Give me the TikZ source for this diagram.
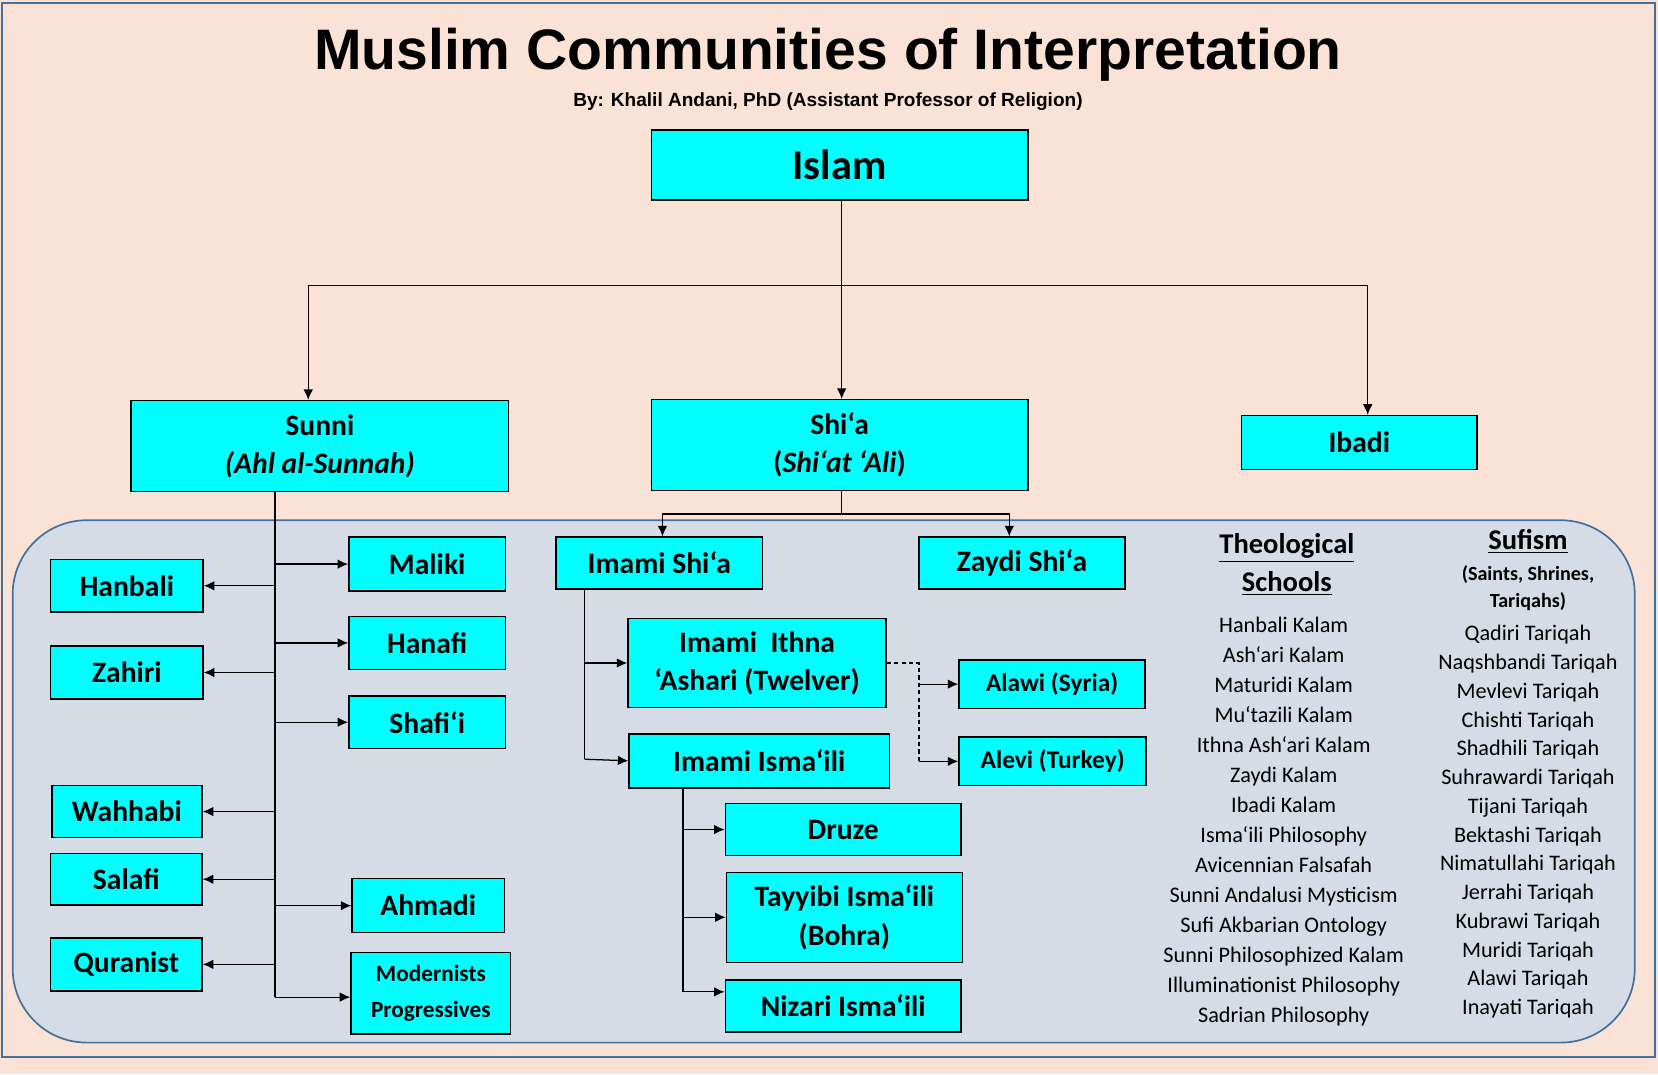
\documentclass[tikz,border=0pt]{standalone}
\usepackage{fontspec}
\setmainfont{Carlito}
\newfontfamily\arialf{Liberation Sans}
\usetikzlibrary{arrows.meta}
\definecolor{peach}{HTML}{FAE3D6}
\definecolor{panel}{HTML}{D6DCE5}
\definecolor{edge}{HTML}{41719C}
\definecolor{cy}{HTML}{00FFFF}
\tikzset{
 box/.style={draw=black,fill=cy,line width=0.7pt,inner sep=0pt,font=\bfseries\fontsize{14}{18}\selectfont,align=center},
 arr/.style={line width=0.6pt,-{Latex[length=5pt,width=4.5pt]}},
 ln/.style={line width=0.6pt},
 lst/.style={font=\fontsize{10.5}{14.2}\selectfont,align=center,inner sep=0pt}
}
\newcommand\bx[6]{\node[box,minimum width={(#3-#2)*0.5pt},minimum height={(#5-#4)*0.5pt}] (#1) at ({(#2+#3)/2},{(#4+#5)/2}) {#6};}
\begin{document}
\begin{tikzpicture}[x=0.5pt,y=-0.5pt]
\useasboundingbox (0,0) rectangle (1568,1016);
\fill[peach] (0,0) rectangle (1568,1016);
\draw[edge,line width=1pt] (2,3) rectangle (1565,1000);
\draw[edge,fill=panel,line width=0.8pt,rounded corners=35pt] (12,492) rectangle (1546,986);
\node[font=\arialf\bfseries\fontsize{27}{30}\selectfont] (title) at (783,52) {Muslim Communities of Interpretation};
\node[font=\arialf\bfseries\fontsize{9}{11}\selectfont] (sub) at (783,96) {By: Khalil Andani, PhD (Assistant Professor of Religion)};
\node[box,font=\bfseries\fontsize{20}{24}\selectfont,minimum width=178pt,minimum height=33pt] (islam) at (794,156) {Islam};
\bx{sunni}{124}{481}{379}{465}{Sunni\\\textit{(Ahl al-Sunnah)}}
\bx{shia}{616}{972}{378}{464}{Shi‘a\\(\textit{Shi‘at ‘Ali})}
\bx{ibadi}{1174}{1397}{393}{444}{Ibadi}
\coordinate (j) at (796,270);
\draw[ln] (islam.south -| j) -- (j);
\draw[arr] (j) -- (shia.north -| j);
\draw[arr] (j) -| ([xshift=-5.5pt]sunni.north);
\draw[arr] (j) -| ([xshift=4pt]ibadi.north);
% Sunni branches
\bx{hanbali}{48}{192}{529}{579}{Hanbali}
\bx{zahiri}{48}{192}{611}{661}{Zahiri}
\bx{wahhabi}{49}{191}{743}{792}{Wahhabi}
\bx{salafi}{48}{191}{807}{856}{Salafi}
\bx{quranist}{48}{191}{887}{937}{Quranist}
\bx{maliki}{330}{478}{508}{559}{Maliki}
\bx{hanafi}{330}{478}{583}{633}{Hanafi}
\bx{shafii}{330}{478}{658}{708}{Shafi‘i}
\bx{ahmadi}{333}{477}{831}{882}{Ahmadi}
\node[box,font=\bfseries\fontsize{11}{17}\selectfont,minimum width=75.5pt,minimum height=38.5pt] (modern) at (407.5,939.5) {Modernists\\Progressives};
\coordinate (st) at (260,465);
\coordinate (se) at (260,943);
\draw[ln] (st) -- (se);
\foreach \n in {hanbali,zahiri,wahhabi,salafi,quranist}{\draw[arr] (st |- \n.east) -- (\n.east);}
\foreach \n in {maliki,hanafi,shafii,ahmadi}{\draw[arr] (st |- \n.west) -- (\n.west);}
\draw[arr] (se) -- (se -| modern.west);
% Shia branches
\bx{imami}{526}{721}{508}{557}{Imami Shi‘a}
\bx{zaydi}{869}{1064}{508}{557}{Zaydi Shi‘a}
\coordinate (sj) at (796,486);
\draw[ln] (shia.south -| sj) -- (sj);
\draw[arr] (sj) -| ([xshift=1.5pt]imami.north);
\draw[arr] (sj) -| ([xshift=-6pt]zaydi.north);
\bx{ithna}{594}{838}{585}{669}{Imami~ Ithna\\‘Ashari (Twelver)}
\bx{ismaili}{595}{841}{694}{745}{Imami Isma‘ili}
\coordinate (it) at (553,557);
\coordinate (ie) at (553,718);
\draw[ln] (it) -- (ie);
\draw[arr] (it |- ithna.west) -- (ithna.west);
\draw[arr] (ie) -- (ismaili.west);
\bx{alawi}{907}{1083}{624}{670}{\fontsize{12}{14}\selectfont Alawi (Syria)}
\bx{alevi}{907}{1084}{697}{743}{\fontsize{12}{14}\selectfont Alevi (Turkey)}
\coordinate (dj) at (869,627);
\coordinate (de) at (869,720);
\draw[ln,dashed,dash pattern=on 2pt off 1.5pt] (ithna.east) -- (dj) -- (de);
\draw[arr] (dj |- alawi.west) -- (alawi.west);
\draw[arr] (de) -- (alevi.west);
\bx{druze}{686}{909}{760}{809}{Druze}
\bx{tayyibi}{687}{910}{825}{910}{Tayyibi Isma‘ili\\(Bohra)}
\bx{nizari}{686}{909}{927}{976}{Nizari Isma‘ili}
\coordinate (nt) at (646,745);
\coordinate (ne) at (646,938);
\draw[ln] (nt) -- (ne);
\draw[arr] (nt |- druze.west) -- (druze.west);
\draw[arr] (nt |- tayyibi.west) -- (tayyibi.west);
\draw[arr] (ne) -- (ne -| nizari.west);
% Lists
\node[font=\bfseries\fontsize{13.5}{18}\selectfont,align=center,inner sep=0pt] (theo) at (1217,534) {\underline{Theological}\\\underline{Schools}};
\node[lst,anchor=north] (theolist) at (1214,583) {Hanbali Kalam\\Ash‘ari Kalam\\Maturidi Kalam\\Mu‘tazili Kalam\\Ithna Ash‘ari Kalam\\Zaydi Kalam\\Ibadi Kalam\\Isma‘ili Philosophy\\Avicennian Falsafah\\Sunni Andalusi Mysticism\\Sufi Akbarian Ontology\\Sunni Philosophized Kalam\\Illuminationist Philosophy\\Sadrian Philosophy};
\node[font=\bfseries\fontsize{13.5}{18}\selectfont,inner sep=0pt] (sufi) at (1445,512) {\underline{Sufism}};
\node[font=\bfseries\fontsize{9.5}{12.5}\selectfont,align=center,inner sep=0pt] (sufisub) at (1445,556) {(Saints, Shrines,\\Tariqahs)};
\node[lst,anchor=north,font=\fontsize{10.5}{13.6}\selectfont] (sufilist) at (1445,591) {Qadiri Tariqah\\Naqshbandi Tariqah\\Mevlevi Tariqah\\Chishti Tariqah\\Shadhili Tariqah\\Suhrawardi Tariqah\\Tijani Tariqah\\Bektashi Tariqah\\Nimatullahi Tariqah\\Jerrahi Tariqah\\Kubrawi Tariqah\\Muridi Tariqah\\Alawi Tariqah\\Inayati Tariqah};
\end{tikzpicture}
\end{document}
